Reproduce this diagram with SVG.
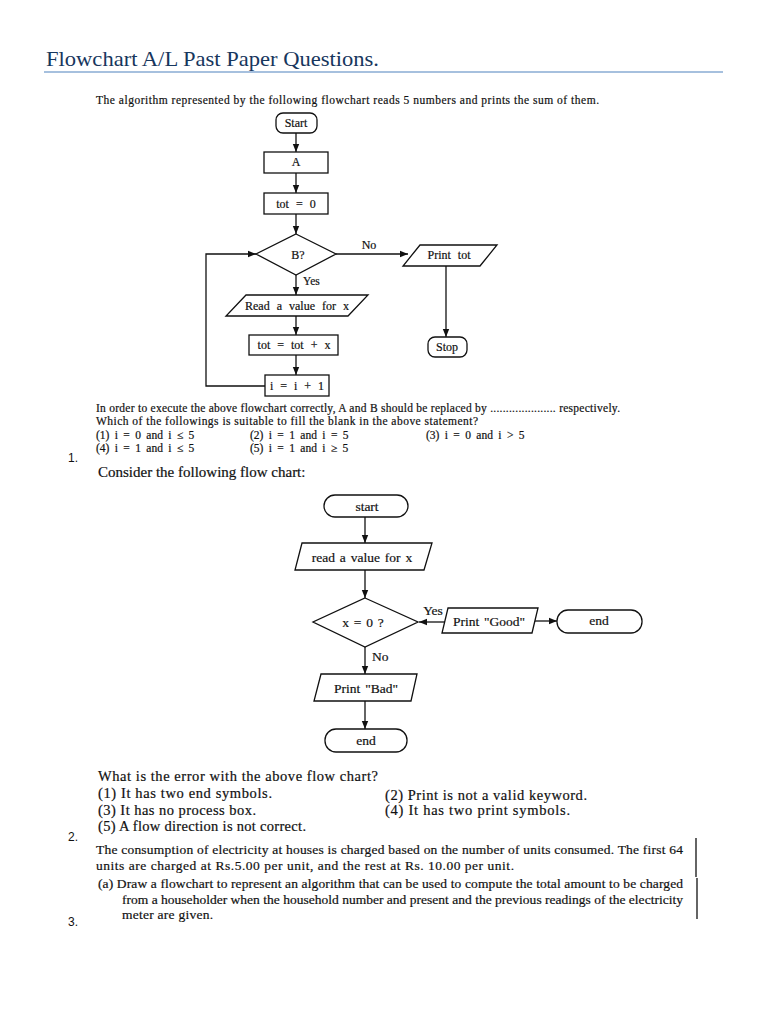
<svg xmlns="http://www.w3.org/2000/svg" width="768" height="1024" viewBox="0 0 768 1024">
<defs>
<marker id="ah" viewBox="0 0 10 10" refX="10" refY="5" markerWidth="8" markerHeight="8" markerUnits="userSpaceOnUse" orient="auto">
<path d="M0,1 L10,5 L0,9 z" fill="#111"/>
</marker>
<style>
.s{fill:#fff;stroke:#111;stroke-width:1.3}
.c{fill:none;stroke:#111;stroke-width:1.3}
.t{font-family:"Liberation Serif","Times New Roman",serif;fill:#111;stroke:#111;stroke-width:0.2}
.f1{font-size:12px;text-anchor:middle;word-spacing:4px}
.f2{font-size:13.5px;text-anchor:middle;word-spacing:1.5px}
.q1{font-size:11.5px}
.r1{font-size:11.5px;word-spacing:2.5px}
.q2{font-size:14.5px}
.q3{font-size:13.5px}
.n{font-family:"Liberation Sans",Arial,sans-serif;font-size:12px;fill:#111}
</style>
</defs>
<rect width="768" height="1024" fill="#fff"/>

<text x="46" y="66" font-family="'Liberation Serif','DejaVu Serif',serif" font-size="21" fill="#17365D" textLength="333" lengthAdjust="spacingAndGlyphs">Flowchart A/L Past Paper Questions.</text>
<line x1="44" y1="72" x2="723" y2="72" stroke="#4F81BD" stroke-width="1.2"/>

<text class="t q1" x="96" y="104" textLength="503" lengthAdjust="spacing">The algorithm represented by the following flowchart reads 5 numbers and prints the sum of them.</text>

<!-- Flowchart 1 -->
<g id="fc1-connectors">
<line class="c" x1="296" y1="133" x2="296" y2="152" marker-end="url(#ah)"/>
<line class="c" x1="296" y1="173" x2="296" y2="193" marker-end="url(#ah)"/>
<line class="c" x1="296" y1="214" x2="296" y2="234" marker-end="url(#ah)"/>
<line class="c" x1="336" y1="254" x2="408" y2="254" marker-end="url(#ah)"/>
<line class="c" x1="446" y1="266" x2="446" y2="337" marker-end="url(#ah)"/>
<line class="c" x1="296" y1="275" x2="296" y2="295" marker-end="url(#ah)"/>
<line class="c" x1="296" y1="316" x2="296" y2="335" marker-end="url(#ah)"/>
<line class="c" x1="296" y1="355" x2="296" y2="375" marker-end="url(#ah)"/>
<polyline class="c" points="265,386 206,386 206,254 256,254" marker-end="url(#ah)"/>
<text class="t f1" x="369" y="249">No</text>
<text class="t q1" x="303" y="285">Yes</text>
</g>
<g id="fc1-start"><rect class="s" x="276" y="113" width="41" height="20" rx="7"/><text class="t f1" x="296" y="127">Start</text></g>
<g id="fc1-A"><rect class="s" x="264" y="152" width="64" height="21"/><text class="t f1" x="296" y="166">A</text></g>
<g id="fc1-tot0"><rect class="s" x="264" y="193" width="64" height="21"/><text class="t f1" x="296" y="208">tot = 0</text></g>
<g id="fc1-B"><polygon class="s" points="296,234 336,254 296,275 256,254"/><text class="t f1" x="298" y="259">B?</text></g>
<g id="fc1-print"><polygon class="s" points="420,245 497,245 480,266 403,266"/><text class="t f1" x="449" y="259">Print tot</text></g>
<g id="fc1-stop"><rect class="s" x="428" y="337" width="39" height="20" rx="7"/><text class="t f1" x="447" y="351">Stop</text></g>
<g id="fc1-read"><polygon class="s" points="246,295 368,295 348,316 226,316"/><text class="t f1" x="297" y="310">Read a value for x</text></g>
<g id="fc1-add"><rect class="s" x="249" y="335" width="89" height="20"/><text class="t f1" x="294" y="349">tot = tot + x</text></g>
<g id="fc1-inc"><rect class="s" x="265" y="375" width="64" height="21"/><text class="t f1" x="297" y="390">i = i + 1</text></g>

<text class="t q1" x="96" y="412" textLength="524" lengthAdjust="spacing">In order to execute the above flowchart correctly, A and B should be replaced by ..................... respectively.</text>
<text class="t q1" x="96" y="425" textLength="382" lengthAdjust="spacing">Which of the followings is suitable to fill the blank in the above statement?</text>
<text class="t r1" x="96" y="439">(1) i = 0 and i ≤ 5</text>
<text class="t r1" x="250" y="439">(2) i = 1 and i = 5</text>
<text class="t r1" x="426" y="439">(3) i = 0 and i &gt; 5</text>
<text class="t r1" x="96" y="452">(4) i = 1 and i ≤ 5</text>
<text class="t r1" x="250" y="452">(5) i = 1 and i ≥ 5</text>
<text class="n" x="68" y="462">1.</text>

<text class="t" x="98" y="477" font-size="15">Consider the following flow chart:</text>

<!-- Flowchart 2 -->
<g id="fc2-connectors">
<line class="c" x1="365" y1="517" x2="365" y2="543" marker-end="url(#ah)"/>
<line class="c" x1="365" y1="570" x2="365" y2="598" marker-end="url(#ah)"/>
<line class="c" x1="445" y1="622" x2="419" y2="622" marker-end="url(#ah)"/>
<line class="c" x1="533" y1="621" x2="557" y2="621" marker-end="url(#ah)"/>
<line class="c" x1="365" y1="647" x2="365" y2="674" marker-end="url(#ah)"/>
<line class="c" x1="365" y1="701" x2="365" y2="729" marker-end="url(#ah)"/>
<text class="t f2" x="433" y="615">Yes</text>
<text class="t q3" x="372" y="661">No</text>
</g>
<g id="fc2-start"><rect class="s" x="324" y="495" width="84" height="22" rx="11"/><text class="t f2" x="367" y="511">start</text></g>
<g id="fc2-read"><polygon class="s" points="302,543 432,543 424,570 295,570"/><text class="t f2" x="362" y="562">read a value for x</text></g>
<g id="fc2-dec"><polygon class="s" points="365,598 418,622 365,647 313,622"/><text class="t f2" x="363" y="627">x = 0 ?</text></g>
<g id="fc2-good"><polygon class="s" points="448,608 538,608 532,633 442,633"/><text class="t f2" x="489" y="626">Print "Good"</text></g>
<g id="fc2-end1"><rect class="s" x="557" y="610" width="85" height="23" rx="11"/><text class="t f2" x="599" y="625">end</text></g>
<g id="fc2-bad"><polygon class="s" points="321,674 417,674 411,701 314,701"/><text class="t f2" x="366" y="693">Print "Bad"</text></g>
<g id="fc2-end2"><rect class="s" x="325" y="729" width="82" height="23" rx="11"/><text class="t f2" x="366" y="745">end</text></g>

<text class="t q2" x="98" y="781" textLength="280" lengthAdjust="spacing">What is the error with the above flow chart?</text>
<text class="t q2" x="98" y="798" textLength="174" lengthAdjust="spacing">(1) It has two end symbols.</text>
<text class="t q2" x="385" y="800" textLength="202" lengthAdjust="spacing">(2) Print is not a valid keyword.</text>
<text class="t q2" x="98" y="815" textLength="158" lengthAdjust="spacing">(3) It has no process box.</text>
<text class="t q2" x="385" y="815" textLength="185" lengthAdjust="spacing">(4) It has two print symbols.</text>
<text class="t q2" x="98" y="831" textLength="208" lengthAdjust="spacing">(5) A flow direction is not correct.</text>
<text class="n" x="68" y="841">2.</text>

<text class="t q3" x="96" y="854" textLength="587" lengthAdjust="spacing">The consumption of electricity at houses is charged based on the number of units consumed. The first 64</text>
<text class="t q3" x="96" y="870" textLength="418" lengthAdjust="spacing">units are charged at Rs.5.00 per unit, and the rest at Rs. 10.00 per unit.</text>
<text class="t q3" x="98" y="888" textLength="585" lengthAdjust="spacing">(a) Draw a flowchart to represent an algorithm that can be used to compute the total amount to be charged</text>
<text class="t q3" x="122" y="904" textLength="561" lengthAdjust="spacing">from a householder when the household number and present and the previous readings of the electricity</text>
<text class="t q3" x="122" y="919" textLength="91" lengthAdjust="spacing">meter are given.</text>
<text class="n" x="68" y="926">3.</text>
<line x1="696" y1="838" x2="696" y2="877" stroke="#111" stroke-width="1.3"/>
<line x1="697" y1="878" x2="697" y2="919" stroke="#111" stroke-width="1.3"/>
</svg>
